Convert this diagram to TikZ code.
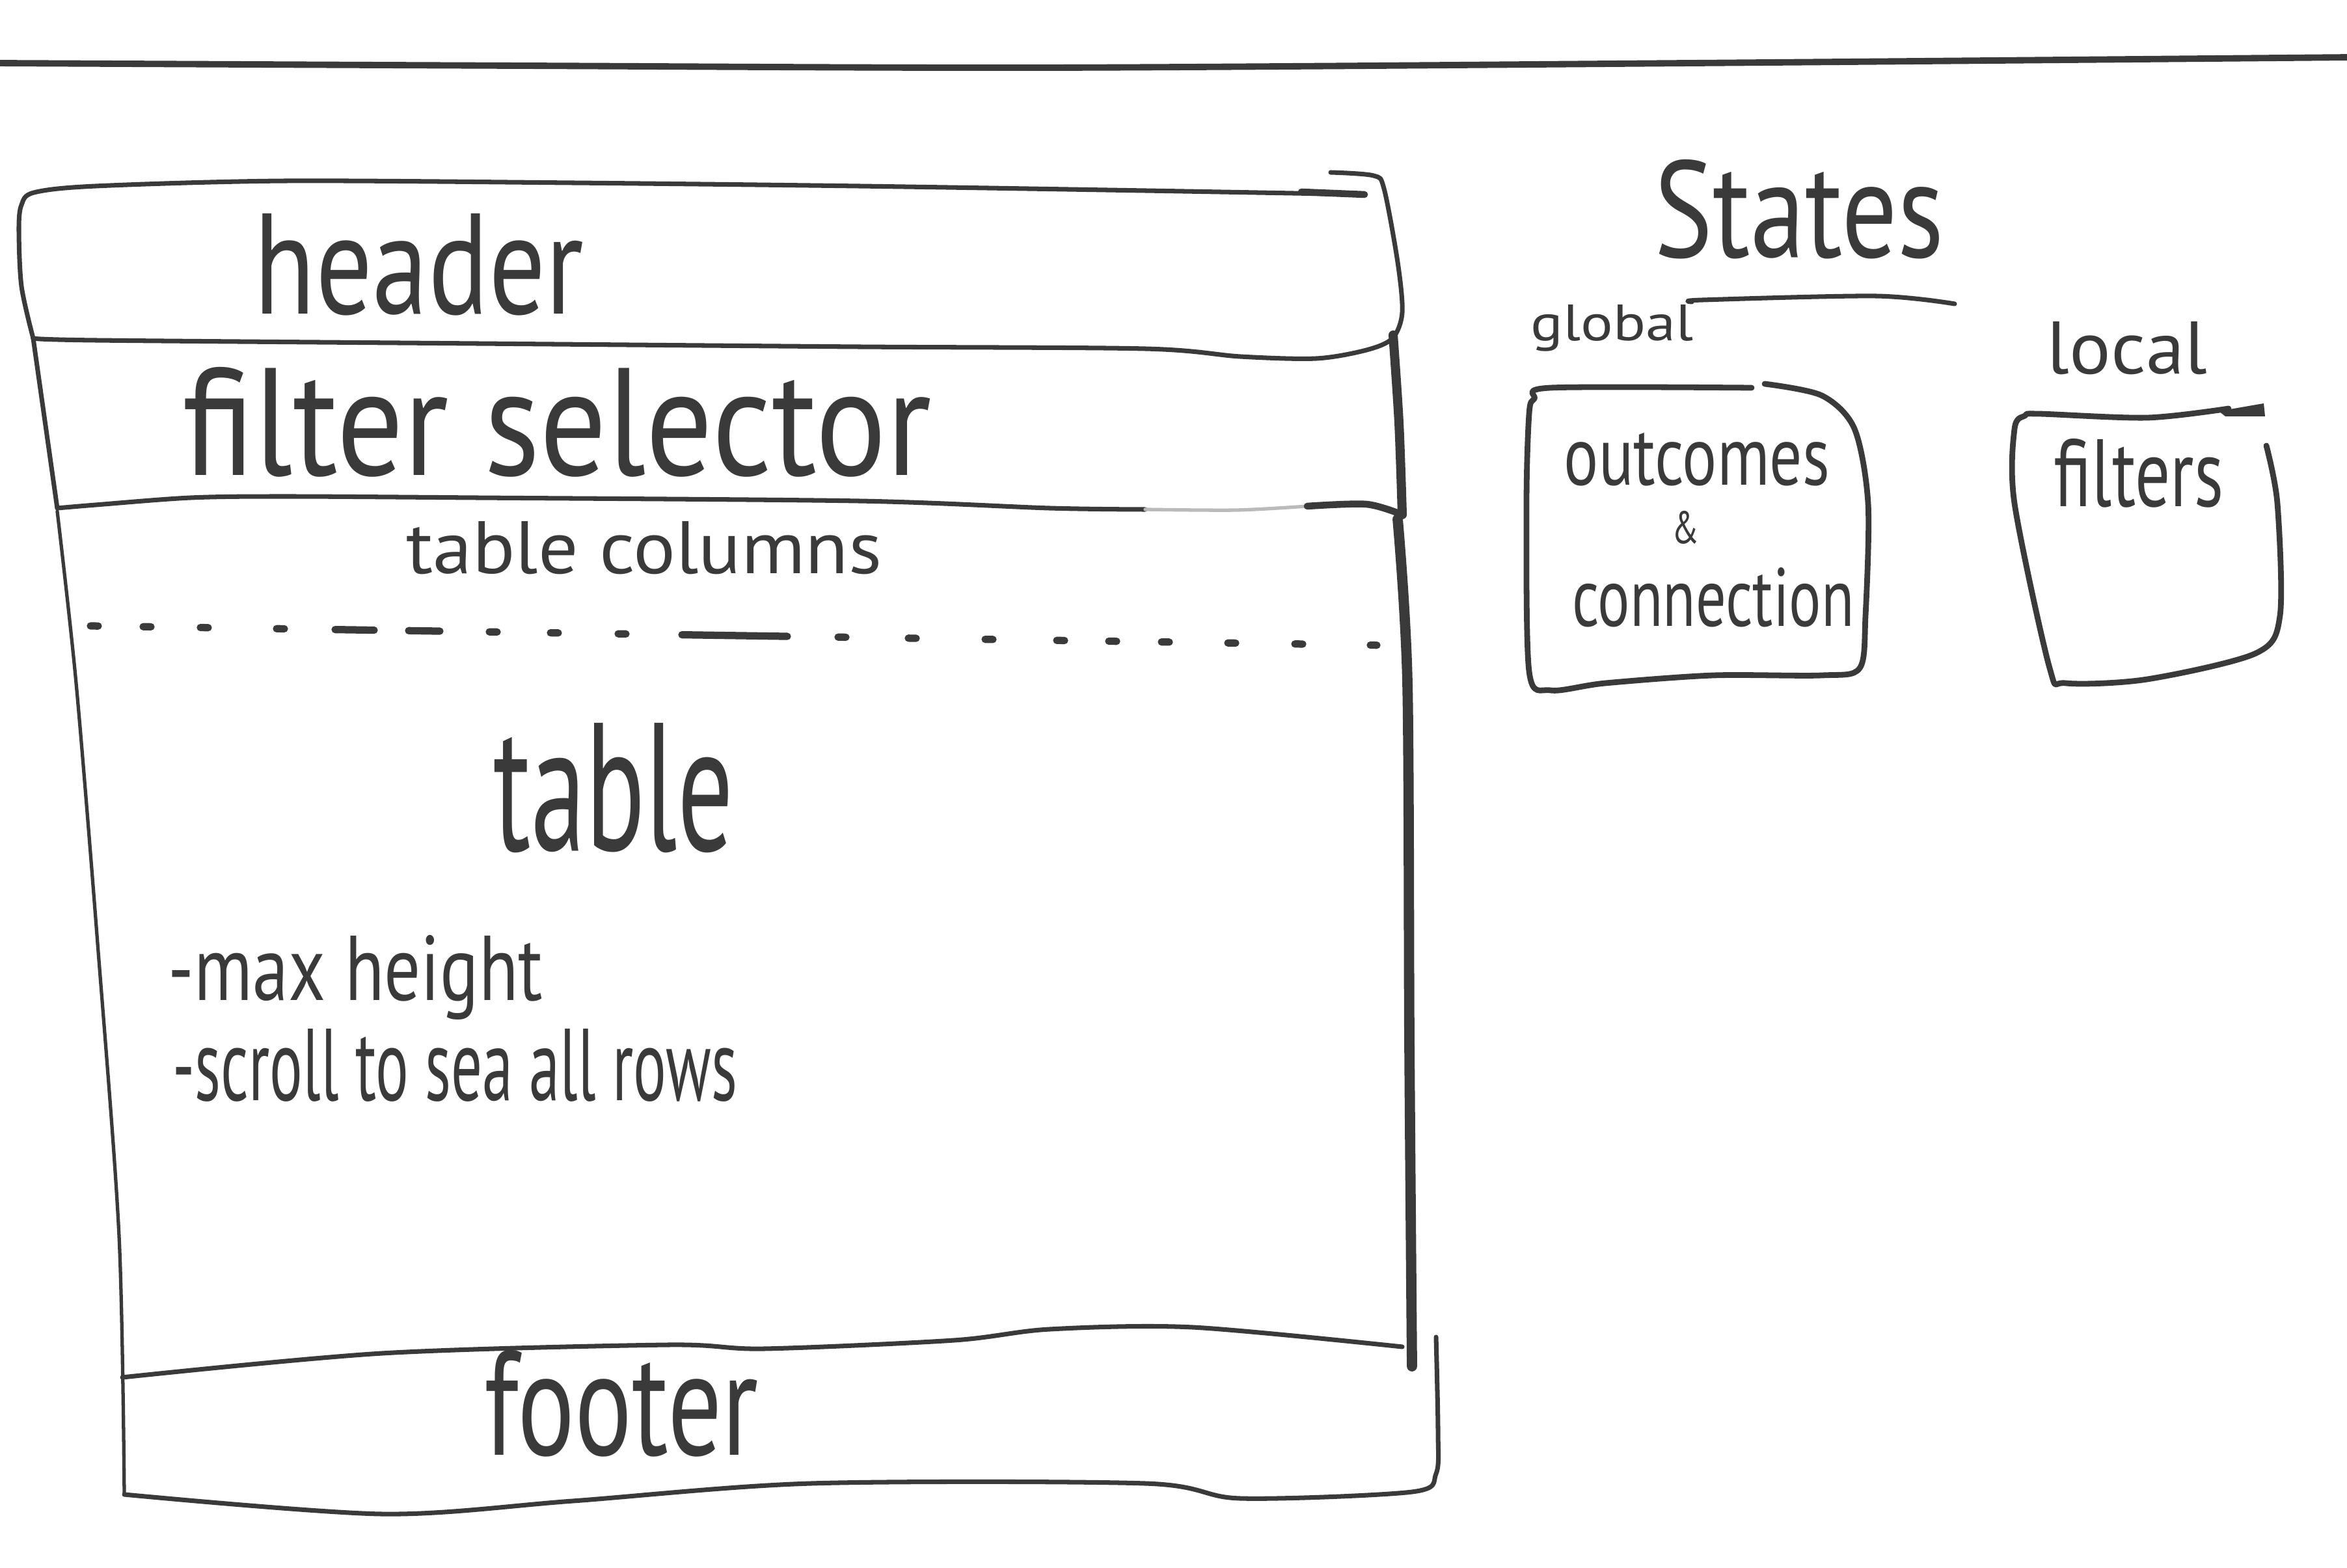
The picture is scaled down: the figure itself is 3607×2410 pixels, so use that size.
\documentclass[tikz,border=0pt]{standalone}
\usepackage{fontspec}
\usepackage{graphicx}
\setmainfont{PT Sans}
\newcommand{\hwtext}[3]{\resizebox{#1}{#2}{#3}}
\definecolor{ink}{HTML}{3A3A3A}
\begin{document}
\begin{tikzpicture}[x=0.01cm,y=-0.01cm, line cap=round, line join=round,
  pen/.style={draw=ink, line width=2pt},
  thinpen/.style={draw=ink, line width=1.5pt},
  thickpen/.style={draw=ink, line width=4pt},
  lbl/.style={text=ink, inner sep=0pt, anchor=base},
  lbll/.style={text=ink, inner sep=0pt, anchor=base west}]
\useasboundingbox[fill=white] (0,0) rectangle (3607,2410);

% top edge of the board
\draw[pen, line width=2.8pt] plot[smooth] coordinates {(-10,97)(800,101)(1610,104)(2600,97)(3617,88)};

% header box
\draw[pen] plot[smooth] coordinates {(51,520)(33,440)(29,352)(33,315)(52,296)(147,286)(440,278)(880,281)(1320,286)(1760,293)(2097,299)};
\draw[pen, line width=3pt] (2000,295) -- (2097,299);
\draw[pen] plot[smooth] coordinates {(2045,265)(2111,270)(2127,290)(2148,403)(2155,480)(2140,520)(2100,538)(2023,551)(1906,548)(1760,536)(1320,533)(733,528)(147,523)(51,520)};

% filter selector box
\draw[pen] (51,520) -- (88,781);
\draw[thickpen] plot[smooth] coordinates {(2141,515)(2150,650)(2155,791)};
\draw[pen] plot[smooth] coordinates {(88,781)(147,776)(293,765)(440,763)(733,765)(1320,770)(1613,781)(1760,783)};
\draw[ink!35, line width=1.5pt] plot[smooth] coordinates {(1760,783)(1900,784)(2009,778)};
\draw[pen, line width=3pt] plot[smooth] coordinates {(2009,778)(2100,775)(2155,791)};

% table box
\draw[thinpen] plot[smooth] coordinates {(88,786)(117,1050)(150,1450)(183,1900)(191,2297)};
\draw[thickpen, line width=4.5pt] plot[smooth] coordinates {(2148,798)(2163,1050)(2166,1600)(2170,2100)};

% dotted separator
\foreach \a/\b in {139/151,220/232,308/320,425/437,515/575,628/676,752/764,846/858,950/962,1048/1210,1288/1300,1396/1408,1514/1526,1624/1636,1704/1716,1785/1797,1887/1899,1990/2002,2106/2116}
  \draw[ink, line width=3.2pt] (\a,{962+(\a-139)*0.015}) -- (\b,{962+(\b-139)*0.015});

% footer box
\draw[pen] plot[smooth] coordinates {(188,2117)(587,2080)(1026,2067)(1173,2073)(1466,2060)(1613,2043)(1833,2040)(2155,2070)};
\draw[pen] plot[smooth] coordinates {(2207,2055)(2210,2200)(2207,2265)(2170,2293)(1906,2303)(1760,2280)(1246,2280)(880,2307)(587,2327)(191,2297)};

% states area
\draw[pen] plot[smooth] coordinates {(2600,464)(2617,461)(2883,455)(3004,467)};
\draw[pen, line width=2.5pt] plot[smooth] coordinates {(2692,596)(2383,596)(2358,613)(2350,636)(2346,774)(2350,1032)(2383,1061)(2467,1050)(2633,1038)(2800,1038)(2858,1027)(2867,946)(2871,774)(2850,659)(2800,608)(2712,590)};
\draw[pen, line width=2.5pt] plot[smooth] coordinates {(3425,628)(3300,642)(3133,636)(3112,639)(3096,659)(3096,774)(3150,1027)(3175,1050)(3300,1044)(3467,1004)(3504,946)(3500,774)(3483,685)};
\fill[ink] (3410,632) -- (3479,620) -- (3481,640) -- (3420,640) -- cycle;

% texts
\node[lbl] (header) at (644,483) {\hwtext{5.06cm}{1.54cm}{header}};
\node[lbl] (filtersel) at (856,731) {\hwtext{11.5cm}{1.66cm}{filter selector}};
\node[lbl] (tablecols) at (990,881) {\hwtext{7.3cm}{0.8cm}{table columns}};
\node[lbl] (table) at (943,1307) {\hwtext{3.68cm}{1.96cm}{table}};
\node[lbll] (maxh) at (258,1537) {\hwtext{5.75cm}{1.0cm}{-max height}};
\node[lbll] (scroll) at (265,1691) {\hwtext{8.67cm}{1.1cm}{-scroll to sea all rows}};
\node[lbl] (footer) at (955,2236) {\hwtext{4.21cm}{1.61cm}{footer}};
\node[lbl] (states) at (2765,396) {\hwtext{4.44cm}{1.5cm}{States}};
\node[lbl] (global) at (2478,524) {\hwtext{2.5cm}{0.55cm}{global}};
\node[lbl] (local) at (3269,575) {\hwtext{2.46cm}{0.8cm}{local}};
\node[lbl] (outcomes) at (2608,745) {\hwtext{4.08cm}{0.8cm}{outcomes}};
\node[lbl] (amp) at (2590,836) {\hwtext{0.42cm}{0.5cm}{\&}};
\node[lbl] (connection) at (2633,962) {\hwtext{4.33cm}{0.9cm}{connection}};
\node[lbl] (filters) at (3287,778) {\hwtext{2.6cm}{1.04cm}{filters}};
\end{tikzpicture}
\end{document}
